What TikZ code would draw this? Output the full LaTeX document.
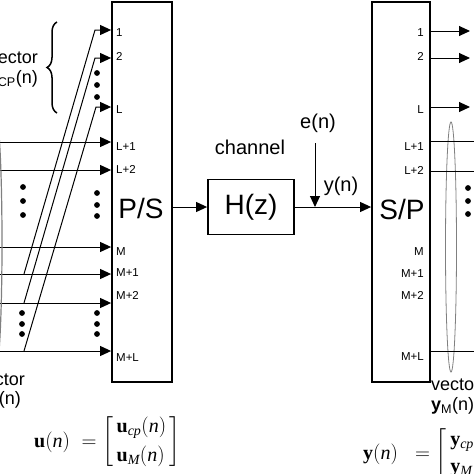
\documentclass[tikz,border=0pt]{standalone}
\usepackage{fontspec}
\setmainfont{Liberation Serif}
\setsansfont{Liberation Sans}
\usepackage{amsmath}
\usetikzlibrary{arrows.meta,decorations.pathreplacing}
\begin{document}
\begin{tikzpicture}[x=1pt,y=-1pt,
  box/.style={draw,line width=1.8pt,inner sep=0pt},
  wire/.style={line width=1pt},
  arr/.style={line width=1pt,-{Triangle[length=11pt,width=10pt]}},
  lbl/.style={font=\sffamily\fontsize{11.5}{13}\selectfont,inner sep=0pt},
  big/.style={font=\sffamily\fontsize{28}{32}\selectfont,inner sep=0pt},
  txt/.style={font=\sffamily\fontsize{18}{20}\selectfont,inner sep=0pt},
  mid/.style={font=\sffamily\fontsize{20}{22}\selectfont,inner sep=0pt},
  formula/.style={font=\fontsize{20}{24}\selectfont,inner sep=0pt},
  dotc/.style={circle,fill,inner sep=0pt,minimum size=5.8pt},
  env/.style={draw=gray,line width=1pt}
]
\clip (0,0) rectangle (474,474);
% boxes
\node[box,minimum width=60pt,minimum height=380pt] (ps) at (142,192) {};
\node[box,minimum width=58pt,minimum height=380pt] (sp) at (401,192) {};
\node[box,big,minimum width=86pt,minimum height=55pt] (hz) at (251,207) {H(z)};
\node[big] (pst) at (141,208) {P/S};
\node[big] (spt) at (402,209) {S/P};
% P/S port labels
\foreach \t/\y [count=\i] in {1/33,2/56,L/110,L+1/147,L+2/169,M/252,M+1/273,M+2/295,M+L/358}
  \node[lbl,anchor=west] (pl\i) at (116,\y) {\t};
% S/P port labels
\foreach \t/\y [count=\i] in {1/33,2/56,L/110,L+1/147,L+2/170,M/252,M+1/274,M+2/295,M+L/357}
  \node[lbl,anchor=east] (sl\i) at (424,\y) {\t};
% straight inputs
\foreach \y [count=\i] in {142,170,247,274,303,351} {
  \coordinate (in\i) at (0,\y);
  \draw[arr] (in\i) -- (ps.west |- in\i);
}
% cyclic prefix diagonals
\coordinate (d1) at (24,274); \coordinate (k1) at (95,30);
\coordinate (d2) at (24,303); \coordinate (k2) at (95,58);
\coordinate (d3) at (24,351); \coordinate (k3) at (96,107);
\foreach \i in {1,2,3}
  \draw[arr] (d\i) -- (k\i) -- (ps.west |- k\i);
% dots
\foreach \x/\y [count=\i] in {97/73,97/85,97/97,97/193,97/205,97/216,97/313,97/324,97/334,23/187,23/201,23/215,22/313,22/324,22/334,468/188,468/201,468/214}
  \node[dotc] (dt\i) at (\x,\y) {};
% brace and left texts
\draw[line width=1.5pt,decorate,decoration={brace,amplitude=10pt}] (57,113) -- (57,22);
\node[txt,anchor=east] (v1) at (38,58) {vector};
\node[txt,anchor=east] (u1) at (38,79) {\textbf{u}\textsubscript{CP}(n)};
\node[txt,anchor=east] (v2) at (25,380) {vector};
\node[txt,anchor=east] (u2) at (21,400) {\textbf{u}\textsubscript{M}(n)};
\node[txt,anchor=west] (v3) at (431,385) {vector};
\node[txt,anchor=west] (y3) at (431,406) {\textbf{y}\textsubscript{M}(n)};
% envelopes
\draw[env,line width=1.2pt] (-4,243) ellipse [x radius=6, y radius=125];
\draw[env,line width=0.8pt] (451,247) ellipse [x radius=5.5, y radius=125];
% channel
\node[mid] (ch) at (250,147) {channel};
\node[mid] (en) at (318,123) {e(n)};
\node[mid] (yn) at (341,186) {y(n)};
\coordinate (j) at (315,207);
\coordinate (et) at (315,143);
\draw[arr] (ps.east |- hz.west) -- (hz.west);
\draw[arr] (hz.east) -- (sp.west |- hz.east);
\draw[arr] (et) -- (j);
% outputs
\foreach \y [count=\i] in {31,58,107} {
  \coordinate (o\i) at (470,\y);
  \draw[arr] (sp.east |- o\i) -- (o\i);
}
\foreach \y [count=\i] in {141,171,351} {
  \coordinate (p\i) at (475,\y);
  \draw[wire] (sp.east |- p\i) -- (p\i);
}
% formulas
\node[formula,anchor=west] (fu) at (34,442) {$\mathbf{u}(\mathit{n})\;=\left[\begin{array}{@{\,}l@{\,}}\mathbf{u}_{\mathit{cp}}(\mathit{n})\\[5pt]\mathbf{u}_{\mathit{M}}(\mathit{n})\end{array}\right]$};
\node[formula,anchor=west] (fy) at (363,454) {$\mathbf{y}(\mathit{n})\;\;=\left[\begin{array}{@{\,}l@{\,}}\mathbf{y}_{\mathit{cp}}(\mathit{n})\\[3pt]\mathbf{y}_{\mathit{M}}(\mathit{n})\end{array}\right]$};
\end{tikzpicture}
\end{document}
